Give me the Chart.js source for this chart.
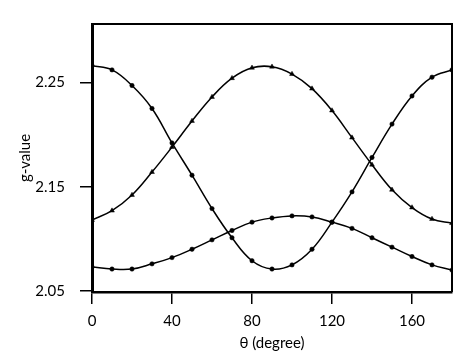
<!DOCTYPE html>
<html>
<head>
<meta charset="utf-8">
<script src="https://cdn.jsdelivr.net/npm/chart.js@4.4.1/dist/chart.umd.min.js"></script>
<style>
html,body{margin:0;padding:0;background:#fff;}
#wrap{width:474px;height:364px;}
</style>
</head>
<body>
<div id="wrap"><canvas id="c" width="474" height="364"></canvas></div>
<script>
const angles = [0,10,20,30,40,50,60,70,80,90,100,110,120,130,140,150,160,170,180];
const seriesA = [2.266,2.262,2.247,2.225,2.192,2.161,2.129,2.101,2.079,2.071,2.075,2.090,2.116,2.145,2.178,2.210,2.237,2.255,2.262];
const seriesB = [2.118,2.127,2.142,2.164,2.188,2.213,2.236,2.254,2.264,2.265,2.258,2.244,2.223,2.197,2.171,2.147,2.130,2.119,2.115];
const seriesC = [2.073,2.071,2.071,2.076,2.082,2.090,2.099,2.108,2.116,2.120,2.122,2.121,2.116,2.110,2.101,2.092,2.083,2.075,2.070];
const xTicks = [0,40,80,120,160];
const yTicks = [2.05,2.15,2.25];

const pts = arr => arr.map((v,i)=>({x:angles[i], y:v}));
const FONT = {family:'Lato, "Open Sans", sans-serif', size:15};

const boxPlugin = {
  id:'box',
  afterDraw(chart){
    const {ctx, chartArea:a} = chart;
    ctx.save();
    ctx.strokeStyle = '#000';
    ctx.lineWidth = 2;
    ctx.beginPath();
    ctx.moveTo(a.left, a.top);
    ctx.lineTo(a.right, a.top);
    ctx.lineTo(a.right, a.bottom);
    ctx.stroke();
    ctx.restore();
  }
};

function ds(data, style, r){
  return {
    data: pts(data),
    borderColor:'#000',
    backgroundColor:'#000',
    borderWidth:1.5,
    pointStyle: style,
    pointRadius: r,
    pointBorderWidth: 0.5,
    tension: 0.4,
    fill:false
  };
}

new Chart(document.getElementById('c'), {
  type:'line',
  data:{
    datasets:[
      ds(seriesA,'circle',2.2),
      ds(seriesB,'triangle',2.8),
      ds(seriesC,'circle',2.2)
    ]
  },
  options:{
    responsive:false,
    animation:false,
    devicePixelRatio:1,
    layout:{padding:{left:0,right:22,top:14,bottom:0}},
    plugins:{legend:{display:false},tooltip:{enabled:false}},
    scales:{
      x:{
        type:'linear',
        min:0,max:180,
        afterBuildTicks(s){ s.ticks = xTicks.map(v=>({value:v})); },
        afterFit(s){ s.height = 72; },
        grid:{drawOnChartArea:false, drawTicks:true, tickLength:12, color:'#000', lineWidth:1.5},
        border:{color:'#000', width:2.5},
        ticks:{color:'#000', font:FONT, padding:8, maxRotation:0, autoSkip:false},
        title:{display:true, text:'θ (degree)', color:'#000', font:FONT, padding:{top:4,bottom:12}}
      },
      y:{
        type:'linear',
        min:2.049,max:2.306,
        afterBuildTicks(s){ s.ticks = yTicks.map(v=>({value:v})); },
        afterFit(s){ s.width = 92; },
        grid:{drawOnChartArea:false, drawTicks:true, tickLength:12, color:'#000', lineWidth:1.5},
        border:{color:'#000', width:3},
        ticks:{color:'#000', font:FONT, padding:15, autoSkip:false, callback:v=>v.toFixed(2)},
        title:{display:true, text:'g-value', color:'#000', font:FONT, padding:{top:16,bottom:4}}
      }
    }
  },
  plugins:[boxPlugin]
});
</script>
</body>
</html>
